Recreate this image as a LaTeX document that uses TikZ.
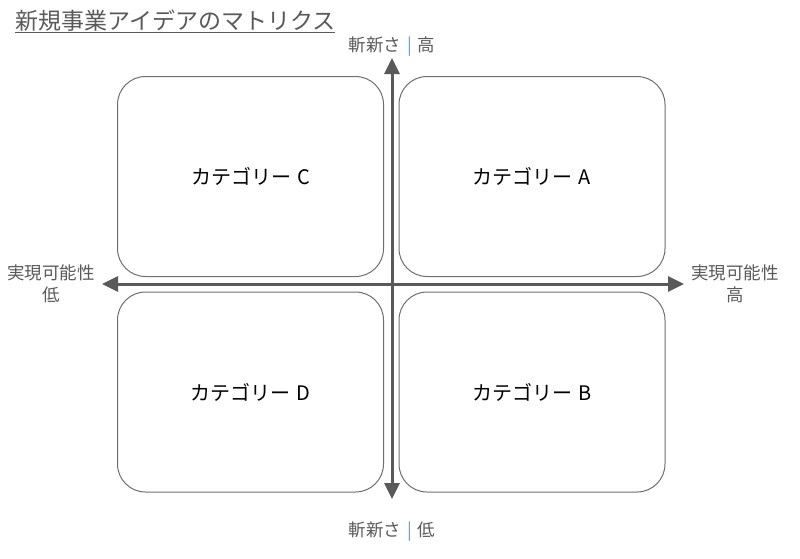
\documentclass[tikz,border=0pt]{standalone}
\usepackage{fontspec}
\setmainfont{Noto Sans CJK JP}
\usetikzlibrary{arrows.meta, positioning}
\definecolor{axisgray}{HTML}{595959}
\definecolor{boxgray}{HTML}{6E6E6E}
\definecolor{barblue}{HTML}{5B9BD5}
\newcommand{\barsep}{\hspace{0.35em}\textcolor{barblue}{|}\hspace{0.35em}}

\begin{document}
\begin{tikzpicture}[x=1pt, y=-1pt,
	category/.style={draw=boxgray, line width=1pt, rounded corners=28pt,
		minimum width=266pt, minimum height=200pt, inner sep=0pt,
		font=\fontsize{20}{24}\selectfont},
	axis/.style={draw=axisgray, line width=3pt,
		{Triangle[length=16pt, width=15pt]}-{Triangle[length=16pt, width=15pt]}},
	axislabel/.style={text=axisgray, font=\fontsize{17.5}{22}\selectfont, align=center, inner sep=1pt}]
	\useasboundingbox (0,0) rectangle (800,558);
	\node[anchor=base west, text=axisgray, inner sep=0pt, font=\fontsize{23}{26}\selectfont]
		(title) at (15,29) {\underline{新規事業アイデアのマトリクス}};
	\node[category] (catC) at (250.5,176.5) {カテゴリー\hspace{0.3em}C};
	\node[category] (catA) at (532,176.5) {カテゴリー\hspace{0.3em}A};
	\node[category] (catD) at (250.5,392) {カテゴリー\hspace{0.3em}D};
	\node[category] (catB) at (532,392) {カテゴリー\hspace{0.3em}B};
	\coordinate (ytop) at (392,58);
	\coordinate (ybot) at (392,499);
	\coordinate (xleft) at (102,284);
	\coordinate (xright) at (684,284);
	\draw[axis] (ybot) -- (ytop);
	\draw[axis] (xleft) -- (xright);
	\node[axislabel, above=0pt of ytop] (newhigh) {斬新さ\barsep 高};
	\node[axislabel, below=22pt of ybot] (newlow) {斬新さ\barsep 低};
	\node[axislabel, left=6pt of xleft] (feaslow) {実現可能性\\低};
	\node[axislabel, right=6pt of xright] (feashigh) {実現可能性\\高};
\end{tikzpicture}
\end{document}
